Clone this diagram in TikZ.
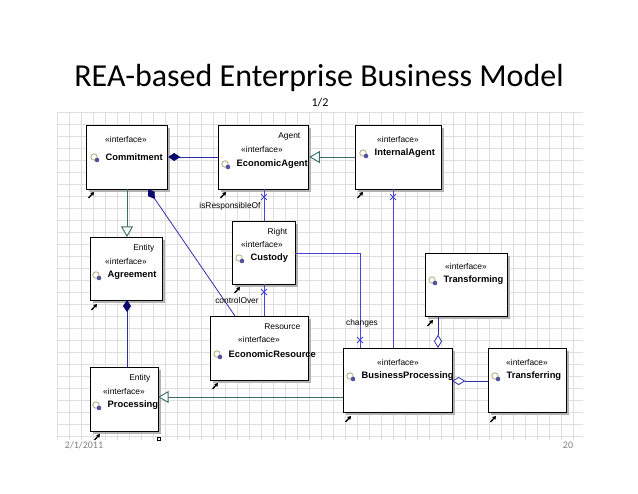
\documentclass[tikz,border=0pt]{standalone}
\usepackage{fontspec}
\setmainfont{Carlito}
\newfontfamily\uml{Liberation Sans}
\usetikzlibrary{arrows.meta}
\definecolor{assoc}{RGB}{70,70,210}
\definecolor{gen}{RGB}{60,110,100}
\definecolor{comp}{RGB}{10,10,110}
\tikzset{
  box/.style={draw=black,fill=white,line width=0.9pt,inner sep=0pt,anchor=north west},
  st/.style={font=\uml\fontsize{6.3}{7}\selectfont},
  nm/.style={font=\uml\bfseries\fontsize{7}{8}\selectfont},
  lab/.style={font=\uml\fontsize{6.3}{7}\selectfont},
  as/.style={draw=assoc,line width=0.6pt},
  gn/.style={draw=gen,line width=0.7pt,-{Triangle[open,length=8pt,width=9pt,fill=white]}},
  cp/.style={draw=assoc!60!comp,line width=0.6pt,{Diamond[length=9pt,width=6pt,fill=comp,color=comp]}-},
  ag/.style={draw=assoc!60!comp,line width=0.6pt,{Diamond[open,length=10pt,width=6pt,fill=white]}-},
  xm/.style={assoc,line width=0.6pt},
}
\newcommand{\umlbox}[6]{%
  \fill[gray!60] (#2+3,#3+3) rectangle (#4+3,#5+3);
  \node[box,minimum width=(#4-#2)*0.75pt,minimum height=(#5-#3)*0.75pt] (#1) at (#2,#3) {};
  \ifx&#6&\else\node[st,anchor=north east] at (#4-3,#3+3) {#6};\fi
}
\newcommand{\icon}[2]{%
  \draw[gray!70!yellow,line width=0.6pt] (#1,#2) circle (3.2);
  \fill[comp!70!white] (#1+3,#2+3) circle (2.3);
}
\newcommand{\corner}[2]{\draw[line width=1pt,-{Triangle[length=2.5pt,width=3pt]}] (#1-2.5,#2+3) -- (#1+3,#2-3);}
\begin{document}
\begin{tikzpicture}[x=0.75pt,y=-0.75pt]
\useasboundingbox (0,0) rectangle (638,493);
% grid
\foreach \gx in {57,69,...,583} \draw[gray!25,line width=0.4pt] (\gx,112) -- (\gx,440);
\foreach \gy in {112,124,...,440} \draw[gray!25,line width=0.4pt] (57,\gy) -- (583,\gy);
% title
\node[font=\fontsize{24}{28}\selectfont] (title) at (319,78) {REA-based Enterprise Business Model};
\node[font=\fontsize{9}{10}\selectfont] (page) at (320,103) {1/2};
\node[font=\fontsize{7.5}{8}\selectfont,text=gray] (date) at (84,445) {2/1/2011};
\node[font=\fontsize{7.5}{8}\selectfont,text=gray] (num) at (568,445) {20};
% boxes
\umlbox{com}{86}{125}{167}{189}{}
\node[st] at (126,139) {«interface»};
\icon{94}{157}\node[nm,anchor=west] at (101,157) {Commitment};
\umlbox{ea}{218}{125}{308}{189}{Agent}
\node[st] at (262,149) {«interface»};
\icon{225}{164}\node[nm,anchor=west] at (232,164) {EconomicAgent};
\umlbox{ia}{355}{125}{441}{189}{}
\node[st] at (398,139) {«interface»};
\icon{363}{153}\node[nm,anchor=west] at (370,153) {InternalAgent};
\umlbox{agr}{90}{237}{162}{300}{Entity}
\node[st] at (126,261) {«interface»};
\icon{96}{275}\node[nm,anchor=west] at (103,275) {Agreement};
\umlbox{cus}{232}{221}{295}{284}{Right}
\node[st] at (262,244) {«interface»};
\icon{239}{258}\node[nm,anchor=west] at (246,258) {Custody};
\umlbox{tfm}{425}{253}{507}{316}{}
\node[st] at (466,266) {«interface»};
\icon{432}{280}\node[nm,anchor=west] at (439,280) {Transforming};
\umlbox{er}{210}{316}{308}{380}{Resource}
\node[st] at (259,339) {«interface»};
\icon{217}{354}\node[nm,anchor=west] at (224,354) {EconomicResource};
\umlbox{bp}{343}{348}{452}{412}{}
\node[st] at (398,362) {«interface»};
\icon{350}{376}\node[nm,anchor=west] at (357,376) {BusinessProcessing};
\umlbox{tfr}{488}{348}{566}{412}{}
\node[st] at (527,362) {«interface»};
\icon{495}{376}\node[nm,anchor=west] at (502,376) {Transferring};
\umlbox{pro}{90}{367}{158}{431}{Entity}
\node[st] at (124,391) {«interface»};
\icon{96}{405}\node[nm,anchor=west] at (103,405) {Processing};
% corner icons
\corner{91}{195}\corner{223}{195}\corner{360}{195}\corner{94}{307}
\corner{237}{290}\corner{430}{323}\corner{215}{386}\corner{348}{419}
\corner{493}{419}\corner{97}{437}
\draw[line width=0.5pt] (157,437) rectangle (160,440);
% connectors
\draw[cp] (com.east |- 0,157) -- (ea.west |- 0,157);
\draw[gn] (ia.west |- 0,157) -- (ea.east |- 0,157);
\draw[gn] (127,189) -- (127,237);
\draw[cp] (148,189) -- (235,316);
\draw[as] (264,189) -- (264,221);
\draw[as] (264,284) -- (264,316);
\draw[as] (295,253) -- (360,253) -- (360,348);
\draw[as] (393,189) -- (393,348);
\draw[ag] (438,348) -- (438,316);
\draw[ag] (452,381) -- (488,381);
\draw[gn] (343,397) -- (158,397);
\draw[cp] (127,300) -- (127,367);
% x marks
\foreach \p in {(264,197),(264,292),(360,340),(393,197)}
  \draw[xm] \p ++(-3,-3) -- ++(6,6) \p ++(3,-3) -- ++(-6,6);
% labels
\node[lab] at (230,206) {isResponsibleOf};
\node[lab] at (237,300) {controlOver};
\node[lab] at (362,323) {changes};
\end{tikzpicture}
\end{document}
